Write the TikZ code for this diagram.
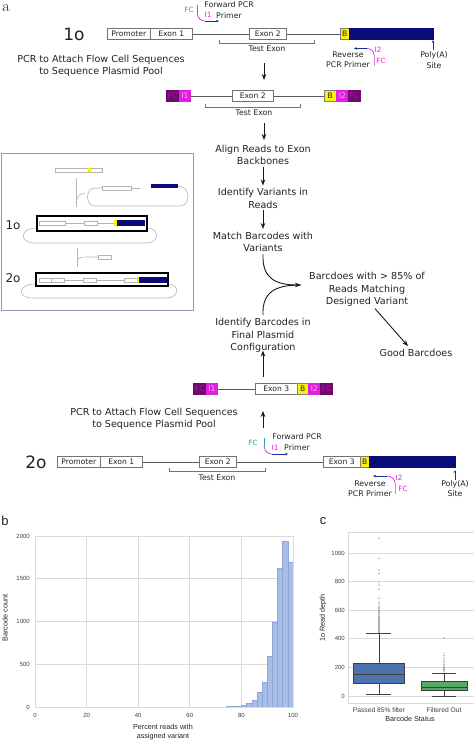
\documentclass[tikz,border=0pt]{standalone}
\usepackage{fontspec}
\newfontfamily\dv{DejaVu Sans}
\newfontfamily\lib{Liberation Sans}
\usetikzlibrary{arrows.meta,calc}
\definecolor{navyc}{HTML}{0A0A78}
\definecolor{magc}{HTML}{E020E0}
\definecolor{purc}{HTML}{6E0A6E}
\definecolor{tealc}{HTML}{2A9CB8}
\definecolor{primc}{HTML}{1A2E9A}
\definecolor{txt}{HTML}{222222}
\definecolor{gridc}{HTML}{DADADA}
\definecolor{barf}{HTML}{A8BEE6}
\definecolor{bare}{HTML}{8CA6DA}
\definecolor{bluebox}{HTML}{4C72B0}
\definecolor{greenbox}{HTML}{55A868}
\definecolor{insetc}{HTML}{9494C4}
\definecolor{plc}{HTML}{B4B4B4}
\newcommand\fsz[2]{\fontsize{#1}{#2}\selectfont}
\begin{document}
\begin{tikzpicture}[x=1pt,y=-1pt,
  cbox/.style={draw=black!55, fill=white, inner sep=0pt, minimum height=10.5pt, anchor=west, font=\dv\fsz{7.6}{9}, text=txt, line width=0.6pt},
  ybox/.style={cbox, fill=yellow, draw=black!50},
  nbox/.style={cbox, fill=navyc, draw=navyc, minimum height=11.5pt},
  mbox/.style={cbox, fill=magc, draw=magc, text=magc!35, minimum height=11.5pt},
  pbox/.style={cbox, fill=purc, draw=purc, text=magc!55!purc, minimum height=11.5pt},
  conn/.style={draw=black!65, line width=0.9pt},
  brk/.style={draw=black!55, line width=0.6pt},
  ftxt/.style={font=\dv\fsz{9.6}{12.3}, align=center, text=txt, inner sep=0pt},
  stxt/.style={font=\dv\fsz{7.8}{10.3}, align=center, text=txt, inner sep=0pt},
  ptxt/.style={font=\dv\fsz{7.2}{8}, inner sep=0pt},
  big/.style={font=\dv\fsz{17}{17}, text=txt, inner sep=0pt},
  arr/.style={-{Stealth[length=6pt,width=4.6pt]}, line width=0.9pt, draw=black!90},
  parr/.style={-{Stealth[length=3pt,width=2.6pt]}, line width=0.7pt, draw=primc},
  pl/.style={draw=plc, line width=0.6pt},
  plbox/.style={draw=plc, fill=white, line width=0.5pt},
  tick/.style={font=\lib\fsz{6}{7}, text=black!75, inner sep=0pt},
  alab/.style={font=\lib\fsz{7.2}{8.6}, text=txt, inner sep=0pt, align=center},
  panel/.style={inner sep=0pt, text=txt}
]
\useasboundingbox (0,0) rectangle (474,742);

% ---------- panel a ----------
\node[panel, font=\fsz{16}{16}] (pa) at (6,8) {a};

% row 1
\node[big] (lab1) at (74,34) {1o};
\node[cbox, minimum width=43pt] (prom1) at (107,34) {Promoter};
\node[cbox, minimum width=42pt] (exa1) at (150,34) {Exon 1};
\node[cbox, minimum width=37pt] (exa2) at (249,34) {Exon 2};
\node[ybox, minimum width=9pt, minimum height=11.5pt] (ba) at (340,34) {B};
\node[nbox, minimum width=84pt] (na) at (349,34) {};
\draw[conn] (exa1.east) -- (exa2.west);
\draw[conn] (exa2.east) -- (ba.west);
\draw[brk] (219,40) -- (219,43) -- (314,43) -- (314,40);
\node[stxt] (tea) at (267,49) {Test Exon};
% forward primer 1
\node[ptxt, text=tealc] (fca) at (189,10) {FC};
\node[ptxt, text=magc] (i1a) at (208,15) {I1};
\draw[tealc, line width=0.7pt] (197,5) -- (197,13);
\draw[magc, line width=0.7pt] (197,13) .. controls (198,19) and (201,21) .. (205,21);
\draw[parr] (205,21) -- (219,21);
\node[stxt] (fwa) at (229,10) {Forward PCR\\Primer};
% reverse primer 1
\draw[parr] (367,48.5) -- (354,48.5);
\draw[magc, line width=0.7pt] (367,48.5) .. controls (371,48.5) and (374,51) .. (374,55);
\draw[magc!60, line width=0.7pt] (374,55) -- (374,66);
\node[ptxt, text=magc] (i2a) at (378,50) {I2};
\node[ptxt, text=magc] (fcra) at (381,61) {FC};
\node[stxt] (rva) at (348,60) {Reverse\\PCR Primer};
\draw[parr] (433,50) -- (433,40);
\node[stxt] (pya) at (434,60) {Poly(A)\\Site};
\node[ftxt] (pcra) at (101,65.5) {PCR to Attach Flow Cell Sequences\\to Sequence Plasmid Pool};
\coordinate (d1s) at (264,63);
\coordinate (d1e) at (264,80);
\draw[arr] (d1s) -- (d1e);

% row 2
\node[pbox, minimum width=13pt] (fcb1) at (166,96) {FC};
\node[mbox, minimum width=11pt] (i1b) at (179,96) {I1};
\node[cbox, minimum width=41pt] (exb2) at (232,96) {Exon 2};
\node[ybox, minimum width=12pt, minimum height=11.5pt] (bb) at (324,96) {B};
\node[mbox, minimum width=12pt] (i2b) at (336,96) {I2};
\node[pbox, minimum width=12pt] (fcb2) at (348,96) {FC};
\draw[conn] (i1b.east) -- (exb2.west);
\draw[conn] (exb2.east) -- (bb.west);
\draw[brk] (205,104) -- (205,107) -- (300,107) -- (300,104);
\node[stxt] (teb) at (254,113) {Test Exon};
\coordinate (d2s) at (264,123);
\coordinate (d2e) at (264,140);
\draw[arr] (d2s) -- (d2e);

% flow
\node[ftxt] (align) at (263,155) {Align Reads to Exon\\Backbones};
\node[ftxt] (ident) at (263,198.5) {Identify Variants in\\Reads};
\node[ftxt] (match) at (263,242) {Match Barcodes with\\Variants};
\node[ftxt] (barc) at (367,289.5) {Barcdoes with > 85\% of\\Reads Matching\\Designed Variant};
\node[ftxt] (good) at (416,353) {Good Barcdoes};
\node[ftxt] (final) at (263,335.5) {Identify Barcodes in\\Final Plasmid\\Configuration};
\draw[arr] ($(align.south)+(0,1.5)$) -- ($(ident.north)+(0,-3)$);
\draw[arr] ($(ident.south)+(0,1.5)$) -- ($(match.north)+(0,-3)$);
\coordinate (join) at (301,285);
\draw[arr] ($(match.south)+(0,2)$) .. controls (262,278) and (275,285) .. (join);
\draw[line width=0.9pt, black!90] ($(final.north)+(0,-3)$) .. controls (262,292) and (275,285) .. (join);
\draw[arr] ($(barc.south)+(8,2)$) -- ($(good.north)+(-8,-3)$);
\coordinate (u1s) at (263,377);
\draw[arr] (u1s) -- ($(final.south)+(0,-2)$);

% row 3
\node[pbox, minimum width=13pt] (fcc1) at (193,389) {FC};
\node[mbox, minimum width=11pt] (i1c) at (206,389) {I1};
\node[cbox, minimum width=42pt] (exc3) at (255,389) {Exon 3};
\node[ybox, minimum width=11pt, minimum height=11.5pt] (bc) at (297,389) {B};
\node[mbox, minimum width=12pt] (i2c) at (308,389) {I2};
\node[pbox, minimum width=12pt] (fcc2) at (320,389) {FC};
\draw[conn] (i1c.east) -- (exc3.west);

\coordinate (u2s) at (263,428);
\coordinate (u2e) at (263,411);
\draw[arr] (u2s) -- (u2e);
\node[ftxt] (pcrb) at (154,418.5) {PCR to Attach Flow Cell Sequences\\to Sequence Plasmid Pool};

% row 4
\node[big] (lab2) at (36,462) {2o};
\node[cbox, minimum width=43pt] (prom4) at (57,462) {Promoter};
\node[cbox, minimum width=42pt] (exd1) at (100,462) {Exon 1};
\node[cbox, minimum width=37pt] (exd2) at (199,462) {Exon 2};
\node[cbox, minimum width=37pt] (exd3) at (323,462) {Exon 3};
\node[ybox, minimum width=9pt, minimum height=11.5pt] (bd) at (360,462) {B};
\node[nbox, minimum width=86pt] (nd) at (369,462) {};
\draw[conn] (exd1.east) -- (exd2.west);
\draw[conn] (exd2.east) -- (exd3.west);
\draw[brk] (169,468) -- (169,471) -- (265,471) -- (265,468);
\node[stxt] (ted) at (217,478) {Test Exon};
\node[ptxt, text=tealc] (fcd) at (253,443) {FC};
\node[ptxt, text=magc] (i1d) at (275,448) {I1};
\draw[tealc, line width=0.7pt] (264,438) -- (264,446);
\draw[magc, line width=0.7pt] (264,446) .. controls (265,452) and (268,454) .. (272,454);
\draw[parr] (272,454) -- (288,454);
\node[stxt] (fwd) at (297,442) {Forward PCR\\Primer};
\draw[parr] (387,476) -- (373,476);
\draw[magc, line width=0.7pt] (387,476) .. controls (391,476) and (395,479) .. (395,483);
\draw[magc!60, line width=0.7pt] (395,483) -- (395,494);
\node[ptxt, text=magc] (i2d) at (399,478) {I2};
\node[ptxt, text=magc] (fcrd) at (403,489) {FC};
\node[stxt] (rvd) at (370,488.5) {Reverse\\PCR Primer};
\draw[parr] (455,480) -- (455,470);
\node[stxt] (pyd) at (455,488.5) {Poly(A)\\Site};

% inset
\draw[insetc, line width=0.9pt] (1,153) rectangle (193,310);
\draw[plbox] (55,168) rectangle (102,172);
\fill[yellow] (88,168.3) rectangle (91,171.7);
\draw[pl] (76,178) -- (76,207);
\draw[pl] (76,203) .. controls (77,196) and (80,194) .. (85,193);
\draw[pl] (102,188) -- (95,188) .. controls (85,188) and (85,206) .. (95,206) -- (180,206) .. controls (191,206) and (191,186) .. (178,186);
\draw[plbox] (102,186) rectangle (131,190);
\draw[pl] (131,188) -- (140,188);
\fill[navyc] (151,184) rectangle (178,188);
\node[panel, font=\dv\fsz{12}{12}] (ilab1) at (13,225) {1o};
\draw[pl] (37,228) .. controls (19,228) and (19,243) .. (35,243) -- (146,243) .. controls (160,243) and (160,228) .. (147,228);
\draw[black, line width=1.1pt, fill=white] (37,216) rectangle (147,231);
\draw[plbox] (39,221) rectangle (65,225);
\draw[pl] (65,223) -- (84,223);
\draw[plbox] (84,221) rectangle (97,225);
\draw[pl] (97,223) -- (114,223);
\fill[yellow] (114,220) rectangle (117,226);
\fill[navyc] (117,220) rectangle (145,226);
\draw[pl] (77,248) -- (77,267);
\draw[pl] (77,262) .. controls (78,257) and (81,257) .. (88,257) -- (98,257);
\draw[plbox] (98,255) rectangle (111,259);
\node[panel, font=\dv\fsz{12}{12}] (ilab2) at (13,278) {2o};
\draw[pl] (36,284) .. controls (17,284) and (17,298) .. (33,298) -- (166,298) .. controls (180,298) and (180,284) .. (168,284);
\draw[black, line width=1.1pt, fill=white] (36,273) rectangle (168,286);
\draw[plbox] (39,278) rectangle (64,282);
\draw[pl] (51,278) -- (51,282);
\draw[pl] (64,280) -- (83,280);
\draw[plbox] (83,278) rectangle (96,282);
\draw[pl] (96,280) -- (124,280);
\draw[plbox] (124,278) rectangle (137,282);
\fill[yellow] (137,277) rectangle (139,283);
\fill[navyc] (139,277) rectangle (167,283);

% ---------- panel b ----------
\node[panel, font=\lib\fsz{13}{13}] (pb) at (5,521) {b};
\foreach \p in {20,40,60,80} \draw[gridc, line width=0.7pt] ({35+\p*2.58},536) -- ({35+\p*2.58},707);
\foreach \v in {500,1000,1500} \draw[gridc, line width=0.7pt] (35,{707-\v*0.0855}) -- (293,{707-\v*0.0855});
\foreach \p/\v in {70/3,72/3,74/4,76/7,78/12,80/23,82/43,84/80,86/168,88/296,90/596,92/994,94/1625,96/1942,98/1696}
  \draw[fill=barf, draw=bare, line width=0.4pt] ({35+\p*2.58},707) rectangle ({35+(\p+2)*2.58},{707-\v*0.0855});
\draw[gridc, line width=0.8pt] (35,536) rectangle (293,707);
\foreach \v in {0,500,1000,1500,2000} \node[tick, anchor=east] (by\v) at (30,{707-\v*0.0855}) {\v};
\foreach \p in {0,20,40,60,80,100} \node[tick, anchor=north] (bx\p) at ({35+\p*2.58},713.5) {\p};
\node[alab, rotate=90] (bylab) at (5,618) {Barcode count};
\node[alab, font=\lib\fsz{7.2}{8.8}] (bxlab) at (163,732.5) {Percent reads with\\assigned variant};

% ---------- panel c ----------
\node[panel, font=\lib\fsz{13}{13}] (pc) at (323,521) {c};
\foreach \v in {0,200,400,600,800,1000} {
  \draw[gridc, line width=0.7pt] (348,{696-\v*0.143}) -- (474,{696-\v*0.143});
  \node[tick, anchor=east] (cy\v) at (345,{696-\v*0.143}) {\v};
}
\draw[gridc, line width=0.8pt] (474,532) -- (348,532) -- (348,703) -- (474,703);
% box 1
\draw[black!75, line width=0.8pt] (379,663.1) -- (379,633.8) (366,633.8) -- (391,633.8);
\draw[black!75, line width=0.8pt] (379,683.1) -- (379,694.6) (366,694.6) -- (391,694.6);
\draw[fill=bluebox, draw=black!75, line width=0.8pt] (353,663.1) rectangle (404,683.1);
\draw[black!75, line width=0.8pt] (353,674.5) -- (404,674.5);
\foreach \v in {440,446,452,458,464,470,476,482,488,494,500,506,512,518,524,530,536,542,548,554,560,568,576,584,592,600,610,620,630,645,660,683,746,776,793,858,881,963,1103}
  \fill[black!65] (379,{696-\v*0.143}) circle (0.6pt);
% box 2
\draw[black!75, line width=0.8pt] (444,681.7) -- (444,673.1) (432,673.1) -- (456,673.1);
\draw[black!75, line width=0.8pt] (444,690.3) -- (444,696) (432,696) -- (456,696);
\draw[fill=greenbox, draw=black!75, line width=0.8pt] (421,681.7) rectangle (467,690.3);
\draw[black!75, line width=0.8pt] (421,687.4) -- (467,687.4);
\foreach \v in {168,176,184,192,200,210,222,236,250,266,282,300,405}
  \fill[black!65] (444,{696-\v*0.143}) circle (0.6pt);
\node[alab, rotate=90] (cylab) at (323,618) {1o Read depth};
\node[tick, font=\lib\fsz{6.7}{7.5}] (cx1) at (379,710) {Passed 85\% filter};
\node[tick, font=\lib\fsz{6.7}{7.5}] (cx2) at (444,710) {Filtered Out};
\node[alab] (cxlab) at (410,718.5) {Barcode Status};
\end{tikzpicture}
\end{document}
